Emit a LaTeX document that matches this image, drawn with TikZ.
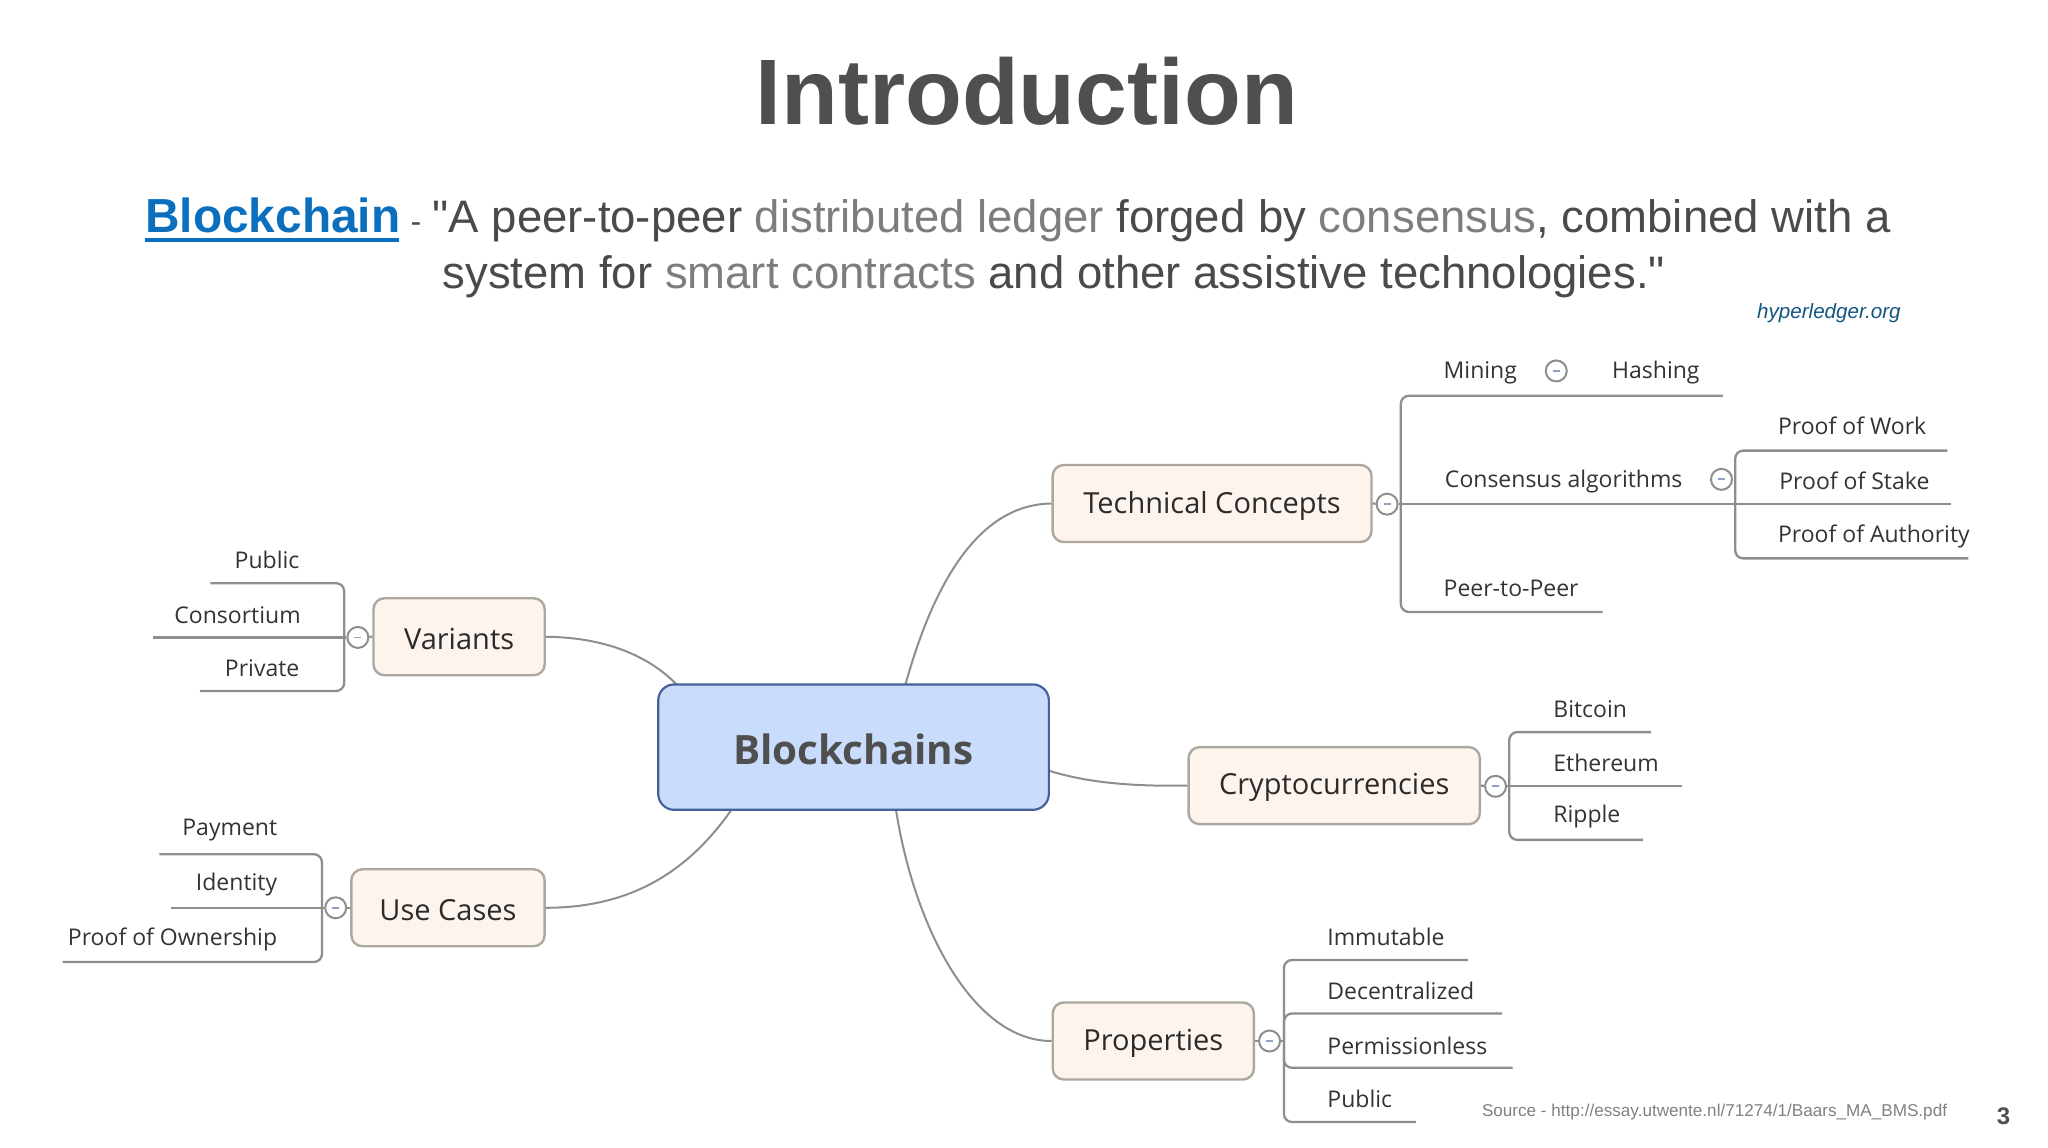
\documentclass[tikz,border=0pt]{standalone}
\usepackage{fontspec}
\setmainfont{Liberation Sans}
\newfontfamily\mapfont{Open Sans}
\newfontfamily\plainquote{Liberation Sans}
\newcommand{\dropped}[1]{\raisebox{-1pt}[\height][\depth]{#1}}
\definecolor{hubfill}{HTML}{C9DCFB}
\definecolor{hubline}{HTML}{46609A}
\definecolor{topfill}{HTML}{FDF4ED}
\definecolor{topline}{HTML}{ACA89F}
\definecolor{wire}{HTML}{8E8E8E}
\definecolor{titlegrey}{HTML}{4F4F4F}
\definecolor{bodygrey}{HTML}{4A4A4A}
\definecolor{softgrey}{HTML}{7D7D7D}
\definecolor{linkblue}{HTML}{0B6FBE}
\definecolor{creditblue}{HTML}{11567F}
\definecolor{srcgrey}{HTML}{808080}
\definecolor{maptext}{HTML}{333333}
\tikzset{
  hubbox/.style={draw=hubline,fill=hubfill,line width=1.1pt,rounded corners=8pt,minimum width=195.3pt,minimum height=62.7pt,inner sep=0pt,
     font=\mapfont\bfseries\fontsize{20.2}{23}\selectfont,text=titlegrey},
  topbox/.style={draw=topline,fill=topfill,line width=1.2pt,rounded corners=5.5pt,minimum height=38.5pt,inner sep=0pt,
     font=\mapfont\fontsize{14.5}{17}\selectfont,text=maptext!85!black},
  leafw/.style={anchor=base west,inner sep=0pt,yshift=-0.65pt,font=\mapfont\fontsize{11.5}{13}\selectfont,text=maptext},
  leafe/.style={anchor=base east,inner sep=0pt,yshift=-0.65pt,font=\mapfont\fontsize{11.5}{13}\selectfont,text=maptext},
  br/.style={draw=wire,line width=1.15pt,rounded corners=4pt},
  link/.style={draw=wire,line width=1pt},
  fold/.style={circle,draw=wire,fill=white,line width=1pt,minimum size=10.5pt,inner sep=0pt,
     path picture={\draw[color=hubline!60,line width=.9pt] ([xshift=-1.8pt]path picture bounding box.center) -- ([xshift=1.8pt]path picture bounding box.center);}},
  headtext/.style={anchor=base west,inner sep=0pt,font=\fontsize{22.75}{26}\selectfont,text=bodygrey},
}
\begin{document}
\begin{tikzpicture}[x=0.65306pt,y=-0.65306pt]
\useasboundingbox (0,0) rectangle (1568,878.2);
% header
\node[anchor=base,inner sep=0pt,font=\bfseries\fontsize{46.5}{50}\selectfont,text=titlegrey] (title) at (786,95) {Introduction};
\node[anchor=base west,inner sep=0pt,font=\bfseries\fontsize{23.9}{28}\selectfont,text=linkblue] (blk) at (111,178) {Blockchain};
\coordinate (ulA) at (111,183.5);
\coordinate (ulB) at (305.5,183.5);
\draw[linkblue,line width=1.9pt] (ulA) -- (ulB);
\node[headtext,font=\fontsize{16}{20}\selectfont] (dash) at (314,178) {-};
\node[headtext] (lineA) at (331,178) {{\plainquote"}A peer-to-peer \textcolor{softgrey}{distributed ledger} forged by \textcolor{softgrey}{consensus}, combined with a};
\node[headtext] (lineB) at (338.5,220.5) {system for \textcolor{softgrey}{smart contracts} and other assistive technologies.{\plainquote"}};
\node[anchor=base east,inner sep=0pt,font=\itshape\fontsize{10.3}{13}\selectfont,text=creditblue] (credit) at (1455.5,243.5) {hyperledger.org};
% coordinates on the hub edge
\coordinate (hTC) at (693,525);
\coordinate (hVA) at (519,525);
\coordinate (hUC) at (560,620);
\coordinate (hCR) at (803,590);
\coordinate (hPR) at (686,620);
% links
\node[topbox,minimum width=159.4pt] (tc) at (928,385.5) {\dropped{Technical Concepts}};
\node[topbox,minimum width=85.6pt] (va) at (351.5,487.5) {\dropped{Variants}};
\node[topbox,minimum width=96.6pt] (uc) at (343,695) {\dropped{Use Cases}};
\node[topbox,minimum width=145.6pt] (cr) at (1021.5,601.5) {\dropped{Cryptocurrencies}};
\node[topbox,minimum width=100.6pt] (pr) at (883,797) {\dropped{Properties}};
\draw[link] (hTC) .. controls (715,445) and (750,386) .. (tc.west);
\draw[link] (va.east) .. controls (460,488) and (495,500) .. (hVA);
\draw[link] (uc.east) .. controls (480,695) and (525,670) .. (hUC);
\draw[link] (hCR) .. controls (835,600) and (870,602) .. (cr.west);
\draw[link] (hPR) .. controls (700,710) and (745,797) .. (pr.west);
\node[hubbox] (hub) at (653.5,572) {\dropped{Blockchains}};
% Technical Concepts branch
\node[fold] (tcO) at (1062,386) {};
\coordinate (tcT) at (1072.5,303); \coordinate (tcTe) at (1319,303);
\coordinate (tcB) at (1072.5,468.5); \coordinate (tcBe) at (1227,468.5);
\coordinate (tcMe) at (1494,386);
\draw[br] (tcTe) -- (tcT) -- (tcB) -- (tcBe);
\draw[br] (tc.east) -- (tcO);
\draw[br] (tcO) -- (tcMe);
\node[leafw] (mining) at (1105,289) {Mining};
\node[fold] (minO) at (1191.5,284) {};
\node[leafw] (hashing) at (1234,289) {Hashing};
\node[leafw] (consensus) at (1106,372) {Consensus algorithms};
\node[fold] (conO) at (1318,367) {};
\node[leafw] (peer) at (1105,456) {Peer-to-Peer};
\coordinate (coT) at (1328.5,345); \coordinate (coTe) at (1491,345);
\coordinate (coB) at (1328.5,427.5); \coordinate (coBe) at (1507,427.5);
\draw[br] (coTe) -- (coT) -- (coB) -- (coBe);
\node[leafw] (pow) at (1361,332) {Proof of Work};
\node[leafw] (pos) at (1362,374) {Proof of Stake};
\node[leafw] (poa) at (1361,414) {Proof of Authority};
% Variants branch
\node[fold] (vaO) at (274,488) {};
\coordinate (vaT) at (263.5,446.5); \coordinate (vaTe) at (161,446.5);
\coordinate (vaB) at (263.5,529); \coordinate (vaBe) at (153,529);
\coordinate (vaMe) at (117,488);
\draw[br] (vaTe) -- (vaT) -- (vaB) -- (vaBe);
\draw[br] (va.west) -- (vaO);
\draw[br] (vaO) -- (vaMe);
\node[leafe] (vpub) at (229.5,434) {Public};
\node[leafe] (vcon) at (230.5,476) {Consortium};
\node[leafe] (vpri) at (229.5,517) {Private};
% Use Cases branch
\node[fold] (ucO) at (257,695) {};
\coordinate (ucT) at (246.5,654); \coordinate (ucTe) at (122,654);
\coordinate (ucB) at (246.5,736.5); \coordinate (ucBe) at (48,736.5);
\coordinate (ucMe) at (131,695);
\draw[br] (ucTe) -- (ucT) -- (ucB) -- (ucBe);
\draw[br] (uc.west) -- (ucO);
\draw[br] (ucO) -- (ucMe);
\node[leafe] (upay) at (212.5,639) {Payment};
\node[leafe] (uide) at (212.5,681) {Identity};
\node[leafe] (uown) at (212.5,723) {Proof of Ownership};
% Cryptocurrencies branch
\node[fold] (crO) at (1145,602) {};
\coordinate (crT) at (1155.5,560.5); \coordinate (crTe) at (1264,560.5);
\coordinate (crB) at (1155.5,643); \coordinate (crBe) at (1258,643);
\coordinate (crMe) at (1288,602);
\draw[br] (crTe) -- (crT) -- (crB) -- (crBe);
\draw[br] (cr.east) -- (crO);
\draw[br] (crO) -- (crMe);
\node[leafw] (cbit) at (1189,548) {Bitcoin};
\node[leafw] (ceth) at (1189,590) {Ethereum};
\node[leafw] (crip) at (1189,629) {Ripple};
% Properties branch
\node[fold] (prO) at (972,797) {};
\coordinate (prT) at (983,735); \coordinate (prTe) at (1124,735);
\coordinate (prB) at (983,859); \coordinate (prBe) at (1084,859);
\coordinate (prU) at (983,776); \coordinate (prUe) at (1150,776);
\coordinate (prL) at (983,817.5); \coordinate (prLe) at (1158,817.5);
\draw[br] (prTe) -- (prT) -- (prB) -- (prBe);
\draw[br] (prUe) -- (prU) -- (prL) -- (prLe);
\draw[br] (pr.east) -- (prO);
\coordinate (prJ) at (983,797);
\draw[br] (prO) -- (prJ);
\node[leafw] (pimm) at (1016,723) {Immutable};
\node[leafw] (pdec) at (1016,764) {Decentralized};
\node[leafw] (pper) at (1016,806) {Permissionless};
\node[leafw] (ppub) at (1016,847) {Public};
% footer
\node[anchor=base east,inner sep=0pt,font=\fontsize{8.56}{12}\selectfont,text=srcgrey] (source) at (1491,855) {Source - http://essay.utwente.nl/71274/1/Baars\_MA\_BMS.pdf};
\node[anchor=base,inner sep=0pt,font=\bfseries\fontsize{12}{14}\selectfont,text=titlegrey] (page) at (1534,861) {3};
\end{tikzpicture}
\end{document}
